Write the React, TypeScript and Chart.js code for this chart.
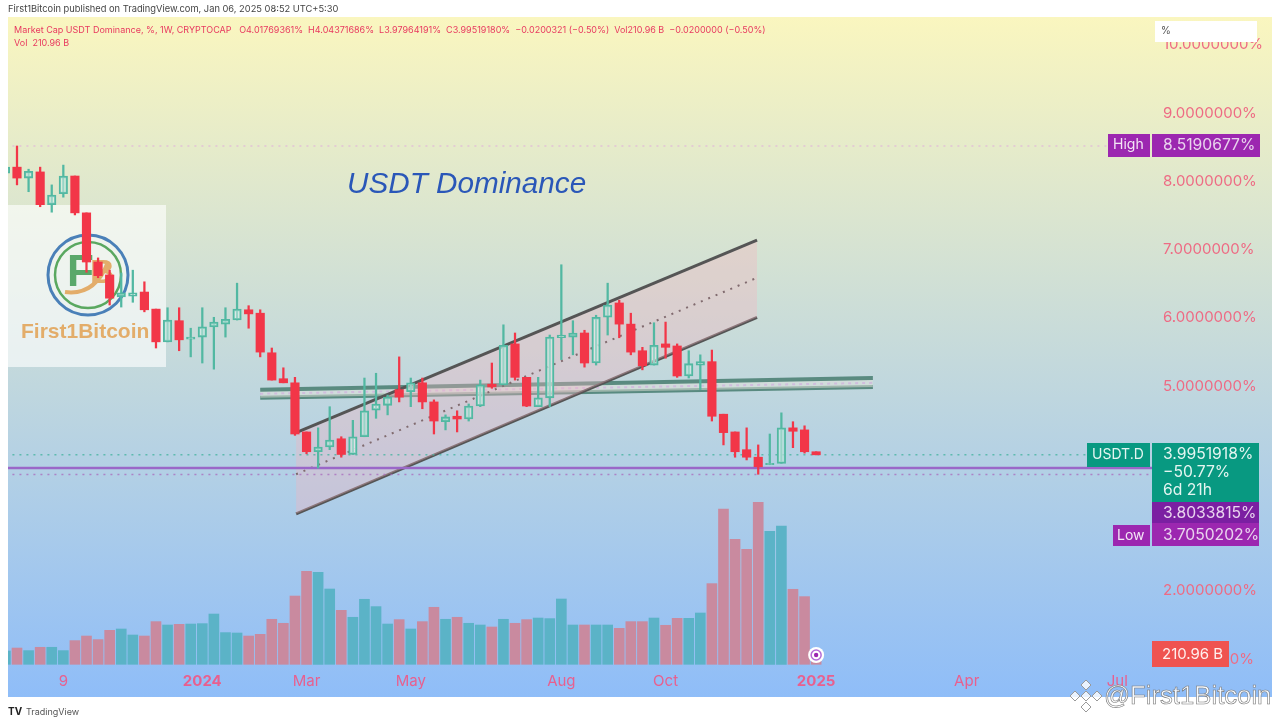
import { useEffect, useRef } from "react";
import { Chart, registerables } from "chart.js";

Chart.register(...registerables);

const FONT = "Inter, 'Liberation Sans', sans-serif";

// week index, 0 = 11 Sep 2023, one candle per week
const weeks = Array.from({ length: 71 }, (_, i) => i - 1);

const opens = [
  8.12, 8.21, 8.05, 8.14, 7.66, 7.82, 8.08, 7.54, 6.82, 6.63, 6.31, 6.32, 6.38, 6.13, 5.65, 5.96, 5.69, 5.72,
  5.87, 5.91, 5.97, 6.12, 6.07, 5.49, 5.11, 5.05, 4.33, 4.04, 4.11, 4.23, 4.0, 4.26, 4.65, 4.72, 4.95, 4.92,
  5.05, 4.77, 4.48, 4.56, 4.52, 4.71, 5.03, 5.02, 5.62, 5.13, 4.7, 4.83, 5.71, 5.72, 5.78, 5.34, 6.01, 6.22,
  5.91, 5.52, 5.31, 5.62, 5.59, 5.15, 5.31, 5.36, 4.59, 4.33, 4.07, 3.96, 3.85, 3.87, 4.39, 4.36, 4.04,
];
const highs = [
  8.21, 8.52, 8.18, 8.21, 7.95, 8.24, 8.08, 7.54, 6.88, 6.7, 6.66, 6.7, 6.53, 6.13, 6.15, 6.15, 5.85, 6.15,
  6.01, 6.15, 6.51, 6.18, 6.12, 5.56, 5.27, 5.13, 4.33, 4.39, 4.7, 4.26, 4.5, 5.12, 5.19, 4.87, 5.43, 5.12,
  5.12, 4.8, 4.58, 4.64, 4.74, 5.09, 5.34, 5.9, 5.78, 5.13, 5.13, 5.75, 6.78, 5.96, 5.82, 6.04, 6.51, 6.26,
  6.07, 5.57, 5.93, 5.94, 5.62, 5.52, 5.46, 5.53, 4.59, 4.33, 4.39, 4.14, 4.3, 4.61, 4.48, 4.42, 4.04,
];
const lows = [
  8.12, 7.95, 7.85, 7.63, 7.55, 7.77, 7.51, 6.67, 6.59, 6.19, 6.16, 6.23, 6.09, 5.56, 5.65, 5.52, 5.43, 5.34,
  5.25, 5.72, 5.97, 5.85, 5.43, 5.09, 5.05, 4.28, 4.01, 3.8, 4.07, 3.96, 4.0, 4.26, 4.53, 4.58, 4.77, 4.7,
  4.67, 4.3, 4.36, 4.33, 4.49, 4.7, 4.97, 5.02, 5.09, 4.7, 4.7, 4.7, 5.39, 5.46, 5.28, 5.31, 5.75, 5.71,
  5.46, 5.24, 5.31, 5.41, 5.13, 5.12, 4.95, 4.49, 4.14, 3.96, 3.92, 3.71, 3.85, 3.87, 4.1, 4.02, 3.995,
];
const closes = [
  8.21, 8.05, 8.15, 7.66, 7.8, 8.08, 7.54, 6.82, 6.62, 6.29, 6.37, 6.37, 6.12, 5.65, 5.97, 5.68, 5.72, 5.87,
  5.94, 5.98, 6.13, 6.06, 5.5, 5.09, 5.05, 4.3, 4.04, 4.11, 4.21, 4.0, 4.26, 4.64, 4.74, 4.84, 4.84, 5.05,
  4.77, 4.49, 4.55, 4.52, 4.71, 5.02, 4.99, 5.6, 5.13, 4.71, 4.83, 5.72, 5.75, 5.78, 5.34, 6.01, 6.19, 5.91,
  5.5, 5.3, 5.6, 5.57, 5.15, 5.33, 5.36, 4.56, 4.32, 4.04, 3.96, 3.82, 3.87, 4.39, 4.34, 4.04, 3.995,
];
// weekly volume, billions
const volumes = [
  273, 334, 281, 349, 349, 281, 486, 580, 506, 697, 724, 601, 580, 875, 806, 820, 826, 834, 1031, 650, 642,
  580, 615, 923, 841, 1400, 1907, 1886, 1544, 1107, 964, 1333, 1183, 826, 916, 724, 875, 1169, 923, 964, 841,
  806, 765, 923, 841, 916, 949, 937, 1339, 806, 806, 806, 806, 738, 875, 875, 949, 800, 943, 943, 1052, 1654,
  3184, 2563, 2358, 3321, 2727, 2835, 1538, 1388, 210.96,
];
const volumeRising = [
  1, 0, 1, 0, 1, 1, 0, 0, 0, 0, 1, 1, 0, 0, 1, 0, 1, 1, 1, 1, 1, 0, 0, 0, 0, 0, 0, 1, 1, 0, 1, 1, 1, 1, 0, 1,
  0, 0, 1, 0, 1, 1, 0, 1, 0, 0, 1, 1, 1, 1, 0, 1, 1, 0, 0, 0, 1, 0, 0, 1, 1, 0, 0, 0, 0, 0, 1, 1, 0, 0, 0,
];

const yTicks = [10, 9, 8, 7, 6, 5, 4, 3, 2, 1];
const xTickWeeks = [4, 16, 25, 34, 47, 56, 69, 82, 95];
const xTickLabels = ["9", "2024", "Mar", "May", "Aug", "Oct", "2025", "Apr", "Jul"];

const channelWeeks = [24.1, 63.9];
const channelUpper = [4.32, 7.14];
const channelMiddle = [3.71, 6.59];
const channelLower = [3.13, 6.01];

const bandWeeks = [21, 73.9];
const bandUpper = [4.95, 5.12];
const bandMiddle = [4.89, 5.05];
const bandLower = [4.83, 4.99];

const spanWeeks = [-1, 98];
const highValue = 8.519;
const lastValue = 3.995;
const avgValue = 3.803;
const lowValue = 3.705;

const RED = "#f23648";
const TEAL = "#52b8a2";
const PURPLE = "#9c27b0";

const pts = (xs: number[], ys: number[]) => xs.map((x, i) => ({ x, y: ys[i] }));
const flat = (v: number) => pts(spanWeeks, [v, v]);

function tag(ctx: any, x: number, y: number, w: number, h: number, color: string) {
  ctx.fillStyle = color;
  ctx.fillRect(x, y, w, h);
}

function label(ctx: any, text: string, x: number, y: number, color = "#f3e6f5", font = `14px ${FONT}`, align = "left") {
  ctx.fillStyle = color;
  ctx.font = font;
  ctx.textAlign = align;
  ctx.textBaseline = "middle";
  ctx.fillText(text, x, y);
}

const VALUE_FONT = `15.7px ${FONT}`;

const backdrop = {
  id: "backdrop",
  beforeDraw(chart: any) {
    const { ctx } = chart;
    const g = ctx.createLinearGradient(0, 17, 0, 697);
    g.addColorStop(0, "#faf6bf");
    g.addColorStop(1, "#8fbdf8");
    ctx.save();
    ctx.fillStyle = g;
    ctx.fillRect(8, 17, 1264, 680);
    ctx.restore();
  },
  beforeDatasetsDraw(chart: any) {
    const { ctx } = chart;
    ctx.save();
    // logo box
    ctx.fillStyle = "rgba(255,255,255,0.62)";
    ctx.fillRect(8, 205, 158, 162);
    ctx.lineWidth = 3;
    ctx.strokeStyle = "#4a80b8";
    ctx.beginPath();
    ctx.arc(88, 275, 40, 0, Math.PI * 2);
    ctx.stroke();
    ctx.lineWidth = 2.5;
    ctx.strokeStyle = "#5aa860";
    ctx.beginPath();
    ctx.arc(88, 275, 33, 0, Math.PI * 2);
    ctx.stroke();
    label(ctx, "F", 67, 274, "#5aa86a", `bold 44px 'Liberation Sans'`);
    label(ctx, "B", 90, 274, "#e3ad6a", `bold 34px 'Liberation Sans'`);
    ctx.strokeStyle = "#e3ad6a";
    ctx.lineWidth = 4;
    ctx.beginPath();
    ctx.moveTo(65, 292);
    ctx.quadraticCurveTo(95, 296, 108, 262);
    ctx.stroke();
    label(ctx, "First1Bitcoin", 21, 332, "#e3ad6a", `bold 21px 'Liberation Sans'`);
    label(ctx, "USDT Dominance", 347, 185, "#2a57b8", `italic 29.7px 'Liberation Sans'`);
    ctx.restore();
  },
  afterDraw(chart: any) {
    const { ctx, scales } = chart;
    ctx.save();

    // header + legend
    label(ctx, "First1Bitcoin published on TradingView.com, Jan 06, 2025 08:52 UTC+5:30", 8, 9, "#444", `9.3px ${FONT}`);
    label(
      ctx,
      "Market Cap USDT Dominance, %, 1W, CRYPTOCAP   O4.01769361%  H4.04371686%  L3.97964191%  C3.99519180%  −0.0200321 (−0.50%)  Vol210.96 B  −0.0200000 (−0.50%)",
      14,
      30,
      "#e8395f",
      `9px ${FONT}`
    );
    label(ctx, "Vol  210.96 B", 14, 43, "#e8395f", `9px ${FONT}`);

    // unit box
    tag(ctx, 1155, 21, 102, 21, "#ffffff");
    label(ctx, "%", 1161, 31, "#555", `10px ${FONT}`);

    // high
    tag(ctx, 1108, 134, 42, 23, PURPLE);
    tag(ctx, 1152, 134, 108, 23, PURPLE);
    label(ctx, "High", 1113, 145);
    label(ctx, "8.5190677%", 1163, 145, "#e9d3ee", VALUE_FONT);

    // last price
    tag(ctx, 1087, 443, 63, 24, "#089981");
    tag(ctx, 1152, 443, 107, 59, "#089981");
    label(ctx, "USDT.D", 1092, 455, "#e4f5f1");
    label(ctx, "3.9951918%", 1163, 454, "#e4f5f1", VALUE_FONT);
    label(ctx, "−50.77%", 1163, 472, "#e4f5f1", VALUE_FONT);
    label(ctx, "6d 21h", 1163, 490, "#e4f5f1", VALUE_FONT);

    tag(ctx, 1152, 502, 107, 21, "#7b1fa2");
    label(ctx, "3.8033815%", 1163, 513, "#e9d3ee", VALUE_FONT);

    tag(ctx, 1113, 525, 37, 21, PURPLE);
    tag(ctx, 1152, 523, 107, 23, PURPLE);
    label(ctx, "Low", 1117, 536);
    label(ctx, "3.7050202%", 1163, 535, "#e9d3ee", VALUE_FONT);

    // volume tag
    tag(ctx, 1152, 641, 77, 26, "#ef5350");
    label(ctx, "210.96 B", 1162, 654, "#fff0ee", `15px ${FONT}`);

    // marker on the last week
    const mx = scales.x.getPixelForValue(69);
    ctx.fillStyle = "#fff";
    ctx.beginPath();
    ctx.arc(mx, 655, 8, 0, Math.PI * 2);
    ctx.fill();
    ctx.strokeStyle = "#b56cd6";
    ctx.lineWidth = 1.5;
    ctx.beginPath();
    ctx.arc(mx, 655, 5, 0, Math.PI * 2);
    ctx.stroke();
    ctx.fillStyle = "#9c27b0";
    ctx.beginPath();
    ctx.arc(mx, 655, 2.2, 0, Math.PI * 2);
    ctx.fill();

    // footer
    label(ctx, "TV", 8, 712, "#222", `bold 10px ${FONT}`);
    label(ctx, "TradingView", 26, 712, "#555", `9px ${FONT}`);

    // watermark
    ctx.fillStyle = "rgba(255,255,255,0.8)";
    ctx.strokeStyle = "#999";
    ctx.lineWidth = 1;
    for (const [dx, dy] of [[0, -11], [-11, 0], [11, 0], [0, 11], [0, 0]]) {
      ctx.beginPath();
      ctx.moveTo(1086 + dx, 696 + dy - 5);
      ctx.lineTo(1086 + dx + 5, 696 + dy);
      ctx.lineTo(1086 + dx, 696 + dy + 5);
      ctx.lineTo(1086 + dx - 5, 696 + dy);
      ctx.closePath();
      ctx.fill();
      ctx.stroke();
    }
    ctx.font = `25.7px 'Liberation Sans'`;
    ctx.textAlign = "left";
    ctx.textBaseline = "middle";
    ctx.fillStyle = "rgba(255,255,255,0.9)";
    ctx.fillText("@First1Bitcoin", 1104, 697);
    ctx.lineWidth = 0.6;
    ctx.strokeStyle = "#777";
    ctx.strokeText("@First1Bitcoin", 1104, 697);

    ctx.restore();
  },
};

export default function App() {
  const canvasRef = useRef<HTMLCanvasElement | null>(null);

  useEffect(() => {
    if (!canvasRef.current) return;

    const rising = closes.map((c, i) => c >= opens[i]);

    const line = (data: any, color: string, width: number, extra: any = {}) => ({
      type: "line",
      data,
      borderColor: color,
      borderWidth: width,
      pointRadius: 0,
      yAxisID: "y",
      fill: false,
      ...extra,
    });

    const chart = new Chart(canvasRef.current, {
      type: "bar",
      data: {
        datasets: [
          {
            data: pts(weeks, volumes),
            yAxisID: "yVol",
            backgroundColor: volumeRising.map((r) => (r ? "#5bb3c7" : "#c98a9f")),
            barThickness: 10,
            grouped: false,
            order: 9,
          },
          line(pts(bandWeeks, bandUpper), "rgba(70,125,112,0.85)", 4, { order: 8, fill: "+2", backgroundColor: "rgba(225,225,215,0.5)" }),
          line(pts(bandWeeks, bandMiddle), "rgba(190,150,225,0.95)", 2, { order: 8, borderDash: [3, 4] }),
          line(pts(bandWeeks, bandLower), "rgba(70,125,112,0.85)", 4, { order: 8 }),
          line(pts(channelWeeks, channelUpper), "#555", 3, { order: 7, fill: "+2", backgroundColor: "rgba(244,181,192,0.35)" }),
          line(pts(channelWeeks, channelMiddle), "#444", 2, { order: 7, borderDash: [2, 6] }),
          line(pts(channelWeeks, channelLower), "#555", 3, { order: 7 }),
          line(flat(highValue), "rgba(225,190,215,0.9)", 1.5, { order: 6, borderDash: [2, 5] }),
          line(flat(lastValue), "rgba(70,180,160,0.8)", 1.5, { order: 6, borderDash: [2, 5] }),
          line(flat(avgValue), "#9a67c8", 2.5, { order: 6 }),
          line(flat(lowValue), "rgba(170,110,190,0.8)", 1.5, { order: 6, borderDash: [2, 5] }),
          {
            data: weeks.map((x, i) => ({ x, y: [lows[i], highs[i]] })),
            yAxisID: "y",
            backgroundColor: rising.map((r) => (r ? TEAL : RED)),
            barThickness: 1.6,
            grouped: false,
            order: 2,
          },
          {
            data: weeks.map((x, i) => ({ x, y: [opens[i], closes[i]] })),
            yAxisID: "y",
            backgroundColor: rising.map((r) => (r ? "rgba(255,255,255,0.4)" : RED)),
            borderColor: rising.map((r) => (r ? TEAL : RED)),
            borderWidth: rising.map((r) => (r ? 1.8 : 0)),
            borderSkipped: false,
            barThickness: 8.5,
            grouped: false,
            order: 1,
          },
        ] as any,
      },
      options: {
        responsive: false,
        animation: false,
        events: [],
        layout: { padding: { left: 8, right: 8, top: 17, bottom: 23 } },
        plugins: { legend: { display: false }, tooltip: { enabled: false } },
        scales: {
          x: {
            type: "linear",
            offset: false,
            min: -0.777,
            max: 98,
            grid: { display: false, drawTicks: false, offset: false },
            border: { display: false },
            afterFit: (s: any) => {
              s.height = 30;
            },
            afterBuildTicks: (s: any) => {
              s.ticks = xTickWeeks.map((value) => ({ value }));
            },
            ticks: {
              autoSkip: false,
              maxRotation: 0,
              padding: 5,
              color: "#e8608f",
              font: (c: any) => ({
                family: FONT,
                size: 15,
                weight: c.tick && (c.tick.value === 16 || c.tick.value === 69) ? "bold" : "normal",
              }),
              callback: (v: any) => xTickLabels[xTickWeeks.indexOf(v)],
            },
          },
          y: {
            position: "right",
            min: 0.886,
            max: 10.41,
            grid: { display: false },
            border: { display: false },
            afterFit: (s: any) => {
              s.width = 120;
            },
            afterBuildTicks: (s: any) => {
              s.ticks = yTicks.map((value) => ({ value }));
            },
            ticks: {
              autoSkip: false,
              padding: 3,
              color: "#ee6b84",
              font: { family: FONT, size: 15 },
              callback: (v: any) => `${Number(v).toFixed(7)}%`,
            },
          },
          yVol: {
            display: false,
            position: "right",
            min: -55,
            max: 13270,
          },
        } as any,
      },
      plugins: [backdrop],
    } as any);

    return () => chart.destroy();
  }, []);

  return (
    <div style={{ position: "fixed", left: 0, top: 0, width: 1280, height: 720 }}>
      <canvas ref={canvasRef} width={1280} height={720} style={{ filter: "blur(0.5px)" }} />
    </div>
  );
}
